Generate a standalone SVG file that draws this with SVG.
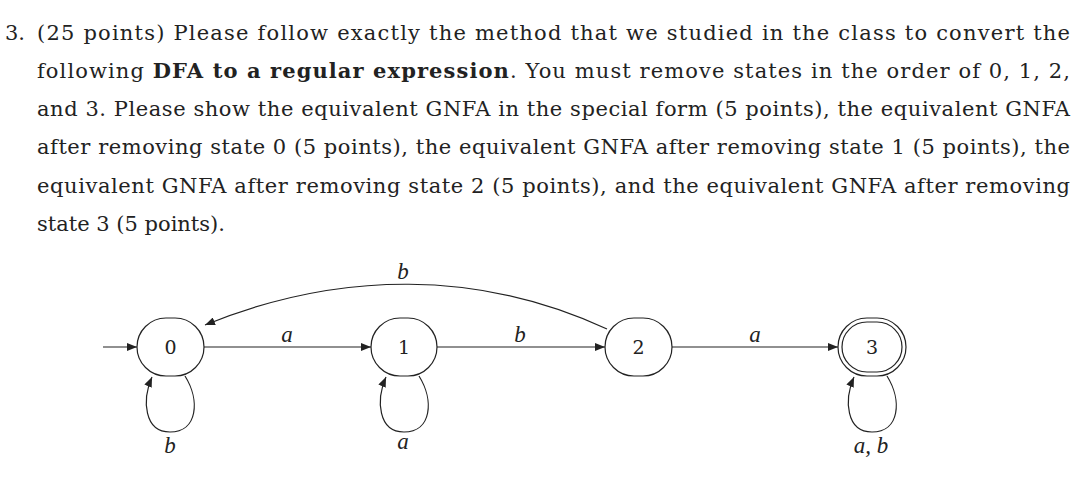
<svg xmlns="http://www.w3.org/2000/svg" width="1086" height="502" viewBox="0 0 1086 502">
<style>
.t{font-family:"DejaVu Serif","Liberation Serif",serif;font-size:21px;fill:#222}
.m{font-family:"Liberation Serif","DejaVu Serif",serif;font-size:23px;font-style:italic;fill:#222}
.n{font-family:"DejaVu Serif","Liberation Serif",serif;font-size:19px;fill:#222}
.s{fill:#fff;stroke:#222;stroke-width:1.2}
.e{fill:none;stroke:#222;stroke-width:1.2}
</style>
<defs><marker id="ah" viewBox="0 0 10 8" refX="10" refY="4" markerWidth="10" markerHeight="8" markerUnits="userSpaceOnUse" orient="auto"><path d="M0,0L10,4L0,8z" fill="#222"/></marker></defs>
<g id="text">
<text class="t" x="5" y="40">3.</text>
<text class="t" x="37" y="40" textLength="1033" lengthAdjust="spacing">(25 points) Please follow exactly the method that we studied in the class to convert the</text>
<text class="t" x="37" y="78" textLength="1033" lengthAdjust="spacing">following <tspan font-weight="bold">DFA to a regular expression</tspan>. You must remove states in the order of 0, 1, 2,</text>
<text class="t" x="37" y="116" textLength="1033" lengthAdjust="spacing">and 3. Please show the equivalent GNFA in the special form (5 points), the equivalent GNFA</text>
<text class="t" x="37" y="154" textLength="1033" lengthAdjust="spacing">after removing state 0 (5 points), the equivalent GNFA after removing state 1 (5 points), the</text>
<text class="t" x="37" y="193" textLength="1033" lengthAdjust="spacing">equivalent GNFA after removing state 2 (5 points), and the equivalent GNFA after removing</text>
<text class="t" x="37" y="231">state 3 (5 points).</text>
</g>
<g id="connectors">
<path class="e" d="M103,347H137" marker-end="url(#ah)"/>
<path class="e" d="M204,347H371" marker-end="url(#ah)"/>
<path class="e" d="M437,347H605" marker-end="url(#ah)"/>
<path class="e" d="M672,347H838" marker-end="url(#ah)"/>
<path class="e" d="M607,329C480,270 340,270 205,325" marker-end="url(#ah)"/>
<path class="e" d="M185,376C200,400 198,432 170,432C144,432 142,400 152,377" marker-end="url(#ah)"/>
<path class="e" d="M419,376C434,400 432,432 404,432C378,432 376,400 386,377" marker-end="url(#ah)"/>
<path class="e" d="M887,376C902,400 900,432 872,432C846,432 844,400 854,377" marker-end="url(#ah)"/>
<text class="m" x="403" y="279" text-anchor="middle">b</text>
<text class="m" x="287" y="342" text-anchor="middle">a</text>
<text class="m" x="520" y="342" text-anchor="middle">b</text>
<text class="m" x="755" y="342" text-anchor="middle">a</text>
<text class="m" x="170" y="453" text-anchor="middle">b</text>
<text class="m" x="403" y="449" text-anchor="middle">a</text>
<text class="m" x="871" y="453" text-anchor="middle">a, b</text>
</g>
<g id="node0"><rect class="s" x="137" y="318" width="67" height="58" rx="29"/><text class="n" x="170.5" y="354" text-anchor="middle">0</text></g>
<g id="node1"><rect class="s" x="371" y="318" width="66" height="58" rx="29"/><text class="n" x="404" y="354" text-anchor="middle">1</text></g>
<g id="node2"><rect class="s" x="605" y="318" width="67" height="58" rx="29"/><text class="n" x="638.5" y="354" text-anchor="middle">2</text></g>
<g id="node3"><rect class="s" x="838" y="318" width="68" height="58" rx="29"/><rect class="s" x="842" y="322" width="60" height="50" rx="25"/><text class="n" x="872" y="354" text-anchor="middle">3</text></g>
</svg>
